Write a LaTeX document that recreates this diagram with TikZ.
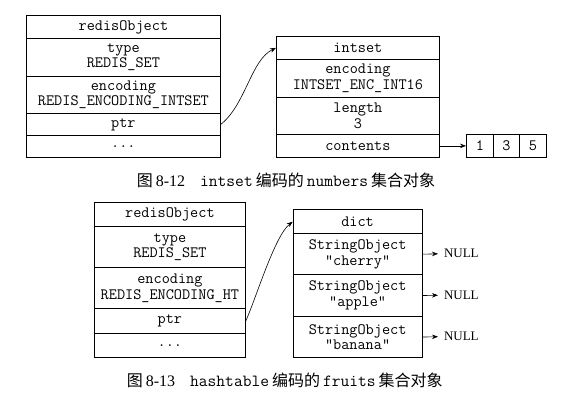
\documentclass[tikz,border=0pt]{standalone}
\usepackage{fontspec}
\setmainfont{Liberation Serif}
\newfontfamily\cjkfont{Noto Sans CJK SC}
\usetikzlibrary{arrows.meta}
\newcommand\capcjk[1]{{\cjkfont\fontsize{16}{18}\selectfont #1}}
\newcommand\capmono[1]{{\ttfamily\fontsize{17}{18}\selectfont #1}}
\newcommand\capnum[1]{{\fontsize{16}{18}\selectfont #1}}
\tikzset{
  cell/.style={draw=black, line width=0.8pt, inner sep=0pt, anchor=north west,
    align=center, font=\ttfamily\fontsize{15.8}{15.5}\selectfont, text=black},
  ptrarrow/.style={line width=0.6pt, -{Stealth[length=6pt,width=4.5pt]}},
  nulltext/.style={anchor=west, inner sep=0pt, outer xsep=6pt, font=\fontsize{13}{14}\selectfont},
  captiontext/.style={anchor=base west, inner sep=0pt}
}
\begin{document}
\begin{tikzpicture}[x=1pt,y=-1pt]
\useasboundingbox (0,0) rectangle (576,400);
% ---------- figure 8-12 ----------
\node[cell, minimum width=194pt, minimum height=23pt] (ra1) at (26,15) {redisObject};
\node[cell, minimum width=194pt, minimum height=38pt] (ra2) at (26,38) {type\\REDIS\_SET};
\node[cell, minimum width=194pt, minimum height=37pt] (ra3) at (26,76) {encoding\\REDIS\_ENCODING\_INTSET};
\node[cell, minimum width=194pt, minimum height=22pt] (ra4) at (26,113) {ptr};
\node[cell, minimum width=194pt, minimum height=22pt] (ra5) at (26,135) {...};

\node[cell, minimum width=163pt, minimum height=23pt] (is1) at (276,36) {intset};
\node[cell, minimum width=163pt, minimum height=38pt] (is2) at (276,59) {encoding\\INTSET\_ENC\_INT16};
\node[cell, minimum width=163pt, minimum height=37pt] (is3) at (276,97) {length\\3};
\node[cell, minimum width=163pt, minimum height=23pt] (is4) at (276,134) {contents};

\node[cell, minimum width=27pt, minimum height=23pt] (a1) at (466,134) {1};
\node[cell, minimum width=26pt, minimum height=23pt] (a2) at (493,134) {3};
\node[cell, minimum width=27pt, minimum height=23pt] (a3) at (519,134) {5};

\draw[ptrarrow] (ra4.east) .. controls +(25,-20) and +(-25,12) .. (is1.west);
\draw[ptrarrow] (is4.east) -- (a1.west);

\node[captiontext] (cap1) at (136.7,186) {\capcjk{图}\hspace{3pt}\capnum{8-12}\hspace{15pt}\capmono{intset}\hspace{3pt}\capcjk{编码的}\hspace{3pt}\capmono{numbers}\hspace{3pt}\capcjk{集合对象}};

% ---------- figure 8-13 ----------
\node[cell, minimum width=151pt, minimum height=23.7pt] (rb1) at (94,202.3) {redisObject};
\node[cell, minimum width=151pt, minimum height=41.3pt] (rb2) at (94,226) {type\\REDIS\_SET};
\node[cell, minimum width=151pt, minimum height=41pt] (rb3) at (94,267.3) {encoding\\REDIS\_ENCODING\_HT};
\node[cell, minimum width=151pt, minimum height=24.4pt] (rb4) at (94,308.3) {ptr};
\node[cell, minimum width=151pt, minimum height=24.6pt] (rb5) at (94,332.7) {...};

\node[cell, minimum width=129pt, minimum height=24pt] (d1) at (292.7,209.3) {dict};
\node[cell, minimum width=129pt, minimum height=41pt] (d2) at (292.7,233.3) {StringObject\\"cherry"};
\node[cell, minimum width=129pt, minimum height=41.7pt] (d3) at (292.7,274.3) {StringObject\\"apple"};
\node[cell, minimum width=129pt, minimum height=41.3pt] (d4) at (292.7,316) {StringObject\\"banana"};

\node[nulltext] (n1) at (438,253.8) {NULL};
\node[nulltext] (n2) at (438,295.2) {NULL};
\node[nulltext] (n3) at (438,336.7) {NULL};

\draw[ptrarrow] (rb4.east) .. controls +(10,-22) and +(-18,14) .. (d1.west);
\draw[ptrarrow] (d2.east) -- (n1.west);
\draw[ptrarrow] (d3.east) -- (n2.west);
\draw[ptrarrow] (d4.east) -- (n3.west);

\node[captiontext] (cap2) at (126.7,386) {\capcjk{图}\hspace{3pt}\capnum{8-13}\hspace{15pt}\capmono{hashtable}\hspace{3pt}\capcjk{编码的}\hspace{3pt}\capmono{fruits}\hspace{3pt}\capcjk{集合对象}};
\end{tikzpicture}
\end{document}
